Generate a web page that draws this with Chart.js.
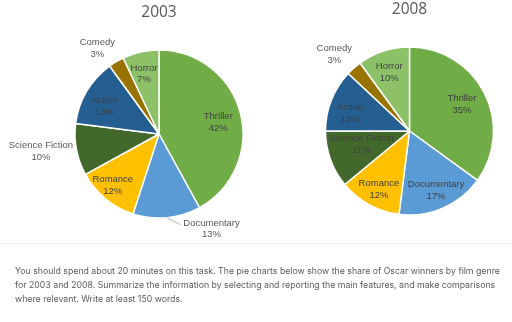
<!DOCTYPE html>
<html>
<head>
<meta charset="utf-8">
<script src="https://cdn.jsdelivr.net/npm/chart.js@4.4.1/dist/chart.umd.min.js"></script>
<style>
  body { margin: 0; width: 512px; height: 322px; background: #fff; position: relative; overflow: hidden; }
  canvas { position: absolute; top: 0; }
  #c2003 { left: 0; }
  #c2008 { left: 307px; }
  .rule { position: absolute; left: 0; top: 243px; width: 512px; height: 1px; background: #f0f0f0; box-shadow: 0 1px 2px #f4f4f4; }
  .task {
    position: absolute; left: 15px; top: 264px; width: 496px;
    font-family: Inter, "Noto Sans", sans-serif; font-size: 8.75px; line-height: 14px; color: #5a5a5a;
  }
</style>
</head>
<body>
<canvas id="c2003" width="318" height="268"></canvas>
<canvas id="c2008" width="205" height="262"></canvas>
<div class="rule"></div>
<div class="task">You should spend about 20 minutes on this task. The pie charts below show the share of Oscar winners by film genre for 2003 and 2008. Summarize the information by selecting and reporting the main features, and make comparisons where relevant. Write at least 150 words.</div>

<script>
// genres, clockwise from 12 o'clock
const genres = ["Thriller", "Documentary", "Romance", "Science Fiction", "Action", "Comedy", "Horror"];
const share2003 = [42, 13, 12, 10, 13, 3, 7];
const share2008 = [35, 17, 12, 11, 12, 3, 10];
const genreColors = ["#70ad47", "#5b9bd5", "#ffc000", "#43682b", "#255e91", "#997300", "#8cc168"];

// draws the year on top and the "Genre / NN%" labels of every slice
const pieLabels = {
  id: "pieLabels",
  afterDatasetsDraw(chart, args, opts) {
    const ctx = chart.ctx;
    const arcs = chart.getDatasetMeta(0).data;
    const values = chart.data.datasets[0].data;
    const cx = arcs[0].x, cy = arcs[0].y;

    ctx.save();
    ctx.textAlign = "center";
    ctx.textBaseline = "middle";
    ctx.fillStyle = "#595959";
    ctx.font = "15.5px 'Open Sans', sans-serif";
    ctx.fillText(opts.title, cx, cy - 121);

    ctx.font = "9.5px 'Liberation Sans', Arial, sans-serif";
    arcs.forEach((arc, i) => {
      const [k, shift, outside] = opts.place[i];
      const mid = (arc.startAngle + arc.endAngle) / 2;
      const a = mid + shift * Math.PI / 180;
      const r = arc.outerRadius * k;
      const x = cx + Math.cos(a) * r;
      const y = cy + Math.sin(a) * r;

      if (opts.leader === i) {
        ctx.strokeStyle = "#a6a6a6";
        ctx.lineWidth = 0.8;
        ctx.beginPath();
        ctx.moveTo(cx + Math.cos(mid) * arc.outerRadius, cy + Math.sin(mid) * arc.outerRadius);
        ctx.lineTo(x - 31, y - 4);
        ctx.stroke();
      }

      ctx.fillStyle = outside ? "#595959" : "#404040";
      ctx.fillText(chart.data.labels[i], x, y - 5.5);
      ctx.fillText(values[i] + "%", x, y + 6);
    });
    ctx.restore();
  }
};

function makePie(id, year, values, place, leader) {
  return new Chart(document.getElementById(id), {
    type: "pie",
    data: {
      labels: genres,
      datasets: [
        {
          data: values,
          backgroundColor: genreColors,
          borderColor: "#ffffff",
          borderWidth: 1.5,
        },
      ],
    },
    options: {
      responsive: false,
      animation: false,
      radius: 84,
      layout: { padding: 0 },
      plugins: {
        legend: { display: false },
        tooltip: { enabled: false },
        pieLabels: { title: year, place: place, leader: leader },
      },
    },
    plugins: [pieLabels],
  });
}

// [radius factor, angle shift in degrees, outside]
makePie("c2003", "2003", share2003, [
  [0.72, 3, false],
  [1.29, -23.6, true],
  [0.82, 2.5, false],
  [1.42, 2.6, true],
  [0.73, -3.6, false],
  [1.26, -5, true],
  [0.74, -1.4, false],
], 1);

makePie("c2008", "2008", share2008, [
  [0.70, 0, false],
  [0.77, -0.8, false],
  [0.78, -1, false],
  [0.59, 4.5, false],
  [0.74, -4.8, false],
  [1.28, -3, true],
  [0.74, -1, false],
], -1);
</script>
</body>
</html>
